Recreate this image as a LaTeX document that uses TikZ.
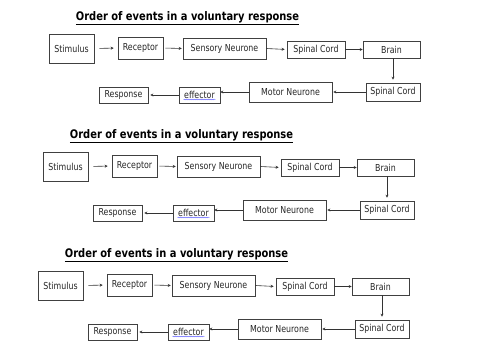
\documentclass[tikz,border=0pt]{standalone}
\usepackage{fontspec}
\setmainfont{DejaVu Sans}
\newfontfamily\boxfont{DejaVu Sans}[FakeStretch=0.82]
\newfontfamily\titlefont{DejaVu Sans}[FakeStretch=0.84]
\usetikzlibrary{arrows.meta,decorations.pathmorphing,calc}
\tikzset{
  stagebox/.style={draw=black!75, line width=0.6pt, inner sep=0pt, align=center,
    font=\boxfont\fontsize{9.6}{11}\selectfont, text=black!85},
  flow/.style={draw=black!80, line width=0.6pt, -{Stealth[length=3pt,width=3pt]}},
  paneltitle/.style={inner sep=0pt, font=\titlefont\bfseries\fontsize{11.8}{13}\selectfont, text=black},
  spell/.style={draw=blue!70, line width=0.4pt, decorate, decoration={snake, amplitude=0.35pt, segment length=2pt}}
}
\newcommand\drawpanel{%
  \node[paneltitle] (title) at (187.5,18) {\underline{Order of events in a voluntary response}};
  \node[stagebox, minimum width=45pt, minimum height=29pt] (stim) at (71.5,48.5) {Stimulus};
  \node[stagebox, minimum width=45pt, minimum height=22pt] (rec) at (140.5,48) {Receptor};
  \node[stagebox, minimum width=83pt, minimum height=21pt] (sens) at (224.5,48.5) {Sensory Neurone};
  \node[stagebox, minimum width=58pt, minimum height=17pt] (sc1) at (316,49.5) {Spinal Cord};
  \node[stagebox, minimum width=57pt, minimum height=17pt] (brain) at (391.5,49.5) {Brain};
  \node[stagebox, minimum width=54pt, minimum height=18pt] (sc2) at (393,92) {Spinal Cord};
  \node[stagebox, minimum width=83pt, minimum height=20pt] (mot) at (290.5,92) {Motor Neurone};
  \node[stagebox, minimum width=41pt, minimum height=16pt] (eff) at (199.5,95) {effector};
  \node[stagebox, minimum width=49pt, minimum height=16pt] (resp) at (123.5,95) {Response};
  \draw[flow, shorten <=5pt, shorten >=4pt] (stim.east) -- (rec.west);
  \draw[flow, shorten <=2pt, shorten >=1pt] (rec.east) -- (sens.west);
  \draw[flow, shorten >=2pt] (sens.east) -- (sc1.west);
  \draw[flow] (sc1.east) -- (brain.west);
  \draw[flow, shorten >=3pt] (brain.south -| sc2.north) -- (sc2.north);
  \draw[flow, shorten >=1pt] (sc2.west) -- (mot.east);
  \draw[flow] (mot.west) -- (mot.west -| eff.east);
  \draw[flow, shorten >=2pt] (eff.west) -- (resp.east);
  \draw[spell] ($(eff.center)+(-16,4.5)$) -- ($(eff.center)+(16,4.5)$);
}
\begin{document}
\begin{tikzpicture}[x=1pt,y=-1pt]
  \fill[white] (0,0) rectangle (500,353);
  \useasboundingbox (0,0) rectangle (500,353);
  \begin{scope}[name prefix=pa-]
    \drawpanel
  \end{scope}
  \begin{scope}[shift={(-6,118)}, name prefix=pb-]
    \drawpanel
  \end{scope}
  \begin{scope}[shift={(-11,237)}, name prefix=pc-]
    \drawpanel
  \end{scope}
\end{tikzpicture}
\end{document}
